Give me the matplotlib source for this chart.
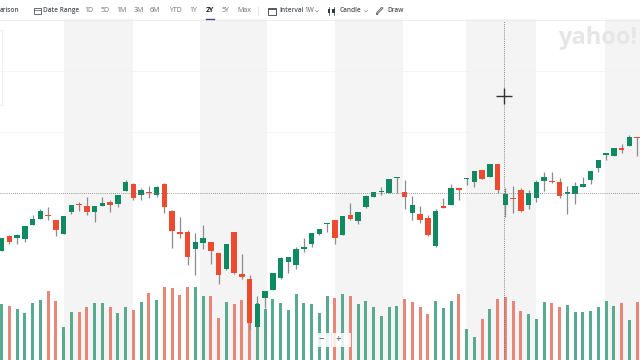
import matplotlib
matplotlib.use('Agg')
import matplotlib.pyplot as plt
from matplotlib.patches import Rectangle

plt.rcParams['font.family'] = ['Open Sans', 'DejaVu Sans']

# значения, шкала цены перевернута (строки кадра)
candle_dirs = ('grggggrrgg' 'rrggrggrgr' 'grrrrggrrg' 'rrrggggggg' 'gggrgrgggg'
               'ggrgrrgrgr' 'ggrgrgrrgg' 'grrggggggg' 'rgr')
body_top = [238, 236, 235, 226, 219, 211, 215, 220, 216, 205, 204, 206, 206, 203, 202, 195, 182, 184, 190, 192,
            187, 184, 211, 232, 232, 242, 238, 242, 253, 244, 232, 274, 279, 304, 291, 273, 258, 257, 249, 247,
            233, 229, 223, 220, 216, 215, 212, 196, 192, 191, 179, 177, 192, 205, 214, 218, 211, 206, 188, 188,
            178, 171, 170, 164, 164, 194, 198, 190, 193, 182, 177, 181, 182, 192, 186, 184, 171, 160, 153, 148,
            148, 137, 137]
body_bottom = [251, 242, 238, 239, 225, 219, 216, 230, 234, 212, 205, 212, 212, 206, 205, 204, 191, 198, 195, 193,
               195, 207, 231, 234, 257, 249, 243, 251, 275, 269, 273, 277, 323, 327, 298, 290, 278, 262, 265, 249,
               244, 234, 224, 238, 235, 219, 221, 207, 197, 192, 193, 178, 197, 213, 220, 235, 246, 208, 205, 190,
               179, 182, 179, 177, 190, 205, 199, 211, 205, 198, 181, 182, 196, 194, 194, 187, 180, 168, 155, 156,
               150, 146, 138]
wick_top = [238, 235, 234, 226, 215, 209, 207, 220, 216, 205, 202, 197, 206, 197, 200, 195, 180, 183, 188, 186,
            186, 183, 210, 217, 230, 233, 225, 242, 253, 244, 232, 254, 275, 296, 291, 273, 257, 257, 247, 238,
            233, 229, 223, 220, 216, 203, 212, 195, 192, 187, 179, 177, 180, 196, 206, 215, 209, 198, 184, 188,
            178, 171, 170, 164, 164, 188, 186, 188, 190, 180, 172, 172, 178, 186, 182, 177, 171, 160, 153, 148,
            144, 135, 137]
wick_bottom = [251, 244, 244, 242, 225, 219, 220, 236, 234, 214, 211, 215, 222, 206, 212, 207, 191, 200, 200, 198,
               197, 213, 248, 238, 265, 275, 249, 264, 284, 270, 274, 279, 330, 330, 308, 290, 279, 273, 269, 252,
               247, 235, 232, 244, 235, 220, 224, 208, 197, 195, 193, 193, 209, 220, 223, 236, 247, 208, 205, 200,
               185, 187, 179, 177, 193, 217, 213, 212, 209, 202, 191, 183, 198, 214, 204, 187, 184, 172, 160, 156,
               153, 146, 156]

volume_dirs = ('grggggrrgg' 'rrggrggrgr' 'grrrrggrrg' 'rrrggggggg' 'gggrgrgggg'
               'ggrrrrgggr' 'ggrgrrrrgg' 'grrggggggg' 'rgr')
volume = [56, 54, 51, 47, 57, 60, 69, 59, 33, 48, 48, 53, 57, 57, 53, 47, 53, 50, 58, 67,
          60, 73, 72, 65, 73, 73, 64, 64, 42, 58, 56, 60, 67, 57, 51, 61, 57, 50, 66, 57,
          56, 47, 64, 62, 66, 64, 56, 59, 53, 44, 53, 54, 61, 58, 53, 46, 59, 52, 59, 66,
          31, 23, 41, 51, 61, 63, 59, 49, 46, 41, 58, 57, 53, 55, 48, 48, 49, 53, 59, 54,
          57, 40, 58]

band_start = [8.05, 25.6, 43.0, 59.9, 77.85]
band_end = [16.95, 34.25, 51.8, 68.95, 83.0]
price_guides = [71, 132]
cross_price = 193
cross_index = 64.8
cursor_price = 96

periods = ['1D', '5D', '1M', '3M', '6M', 'YTD', '1Y', '2Y', '5Y', 'Max']
period_x = [89, 105, 122, 139, 155, 175, 193, 210, 226, 244]

GREEN, RED = '#0e8a63', '#ee4a30'
VGREEN, VRED = '#58ab8e', '#e8867a'
TXT = '#4f565e'
FS = 4.7

fig = plt.figure(figsize=(6.4, 3.6), dpi=100, facecolor='white')
x_lim = (-1.7 / 7.75, 638.3 / 7.75)


def make_axes(z, y_lim):
    a = fig.add_axes([0, 0, 1, 1], zorder=z)
    a.set_xlim(*x_lim)
    a.set_ylim(*y_lim)
    a.axis('off')
    a.patch.set_alpha(0)
    return a


# объемы и фон
ax_vol = make_axes(1, (0, 360))
for s, e in zip(band_start, band_end):
    ax_vol.add_patch(Rectangle((s, 0), e - s, 341, color='#f4f4f4', lw=0))
idx = list(range(len(volume)))
ax_vol.bar(idx, volume, width=0.39, color=[VGREEN if d == 'g' else VRED for d in volume_dirs], lw=0)

# свечи
ax = make_axes(2, (360, 0))
for g in price_guides:
    ax.axhline(g, color='#f2f2f2', lw=0.6, zorder=1)
cols = [GREEN if d == 'g' else RED for d in candle_dirs]
ax.vlines(idx, wick_top, wick_bottom, color='#8c8c8c', lw=0.9, zorder=2)
ax.bar(idx, [b - t for t, b in zip(body_top, body_bottom)], bottom=body_top, width=0.72,
       color=cols, lw=0, zorder=3)
ax.axhline(cross_price, color='#777777', lw=0.6, ls=(0, (1, 1.5)), zorder=4)
ax.axvline(cross_index, ymin=0, ymax=1 - 20 / 360, color='#666666', lw=0.6, ls=(0, (1, 1.5)), zorder=4)
ax.plot([cross_index], [cursor_price], marker='+', ms=11, mew=1.0, color='#333333', zorder=5)

# панель инструментов и прочее оформление, координаты в пикселях
ui = fig.add_axes([0, 0, 1, 1], zorder=3)
ui.set_xlim(0, 640)
ui.set_ylim(360, 0)
ui.axis('off')
ui.patch.set_alpha(0)
ui.plot([0, 640], [19.5, 19.5], color='#ececec', lw=0.7)
ui.plot([0, 2, 2, 0], [30, 30, 105, 105], color='#f0f0f0', lw=0.7)
ui.text(0, 11, 'arison', fontsize=FS, color=TXT, va='center', ha='left', fontweight='semibold')
ui.add_patch(Rectangle((33.5, 7.5), 7, 6.5, fill=False, ec=TXT, lw=0.6))
ui.plot([33.5, 40.5], [9.8, 9.8], color=TXT, lw=0.5)
ui.text(43, 11, 'Date Range', fontsize=FS, color=TXT, va='center', ha='left', fontweight='semibold')
for p, x in zip(periods, period_x):
    sel = p == '2Y'
    ui.text(x, 11, p, fontsize=5.0, color='#1d2228' if sel else '#6b7279', va='center', ha='center',
            fontweight='bold' if sel else 'normal')
ui.plot([206, 214], [18.5, 18.5], color='#4b3f8f', lw=1.0)
ui.plot([258, 258], [7, 15], color='#e3e3e3', lw=0.7)
ui.add_patch(Rectangle((267.5, 7.5), 8, 7, fill=False, ec=TXT, lw=0.7))
ui.plot([267.5, 275.5], [9.3, 9.3], color=TXT, lw=0.7)
ui.text(279, 11, 'Interval', fontsize=FS, color=TXT, va='center', ha='left', fontweight='semibold')
ui.text(304, 11, '1W', fontsize=FS, color=TXT, va='center', ha='left')
ui.plot([315.5, 317, 318.5], [10.5, 12, 10.5], color='#8b9096', lw=0.5)
for x in (329, 333.5):
    ui.plot([x, x], [7, 15], color='#333a41', lw=0.5)
    ui.add_patch(Rectangle((x - 1.1, 9), 2.2, 4, color='#333a41', lw=0))
ui.text(340, 11, 'Candle', fontsize=FS, color=TXT, va='center', ha='left', fontweight='semibold')
ui.plot([364.5, 366, 367.5], [10.5, 12, 10.5], color='#8b9096', lw=0.5)
ui.plot([377, 383, 381.5, 376.5, 377], [14.5, 8, 7.5, 13, 14.5], color=TXT, lw=0.6)
ui.text(387, 11, 'Draw', fontsize=FS, color=TXT, va='center', ha='left', fontweight='semibold')
ui.text(558, 38, 'yahoo!', fontsize=17, color='#e6e6e6', va='center', ha='left', fontweight='bold')
ui.add_patch(Rectangle((313, 333), 38, 14, color='white', alpha=0.85, lw=0))
ui.plot([331, 331], [334, 346], color='#e4e4e4', lw=0.6)
ui.text(321, 339.5, '\u2212', fontsize=7, color='#555555', va='center', ha='center')
ui.text(338.5, 339.5, '+', fontsize=7, color='#555555', va='center', ha='center')

fig.savefig('out.png', dpi=100)
